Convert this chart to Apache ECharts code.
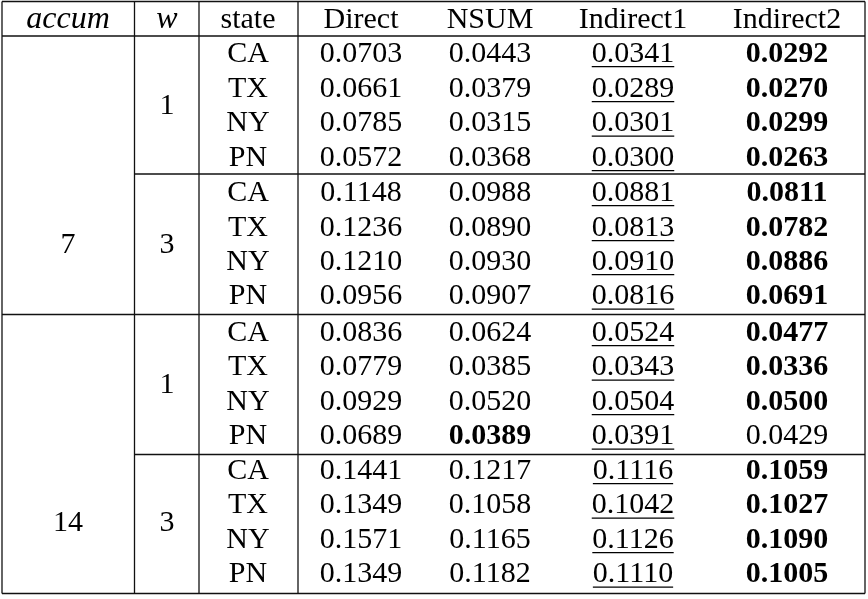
<!DOCTYPE html>
<html><head><meta charset="utf-8">
<script src="https://cdn.jsdelivr.net/npm/echarts@6/dist/echarts.min.js"></script>
<style>html,body{margin:0;padding:0;background:#fff}#c{width:868px;height:599px}</style>
</head><body><div id="c"></div>
<script>
// ---- data ----
const headers = ['accum', 'w', 'state', 'Direct', 'NSUM', 'Indirect1', 'Indirect2'];
const accumLevels = ['7', '14'];
const wLevels = ['1', '3'];
const states = ['CA', 'TX', 'NY', 'PN'];
const direct    = [0.0703, 0.0661, 0.0785, 0.0572, 0.1148, 0.1236, 0.1210, 0.0956, 0.0836, 0.0779, 0.0929, 0.0689, 0.1441, 0.1349, 0.1571, 0.1349];
const nsum      = [0.0443, 0.0379, 0.0315, 0.0368, 0.0988, 0.0890, 0.0930, 0.0907, 0.0624, 0.0385, 0.0520, 0.0389, 0.1217, 0.1058, 0.1165, 0.1182];
const indirect1 = [0.0341, 0.0289, 0.0301, 0.0300, 0.0881, 0.0813, 0.0910, 0.0816, 0.0524, 0.0343, 0.0504, 0.0391, 0.1116, 0.1042, 0.1126, 0.1110];
const indirect2 = [0.0292, 0.0270, 0.0299, 0.0263, 0.0811, 0.0782, 0.0886, 0.0691, 0.0477, 0.0336, 0.0500, 0.0429, 0.1059, 0.1027, 0.1090, 0.1005];

// ---- layout (table geometry in axis units) ----
const colX = [68, 167, 248, 361, 490, 633, 787];
const headerY = 18;
const rowY = [52, 87, 121.5, 156, 191, 226, 260, 294.5, 331, 365.5, 400, 434.5, 469, 503.5, 538, 572.5];
const xL = 2, xA = 134.5, xW = 199, xS = 298, xR = 865;
const yTop = 1.5, yHead = 36, yG1 = 174, yMid = 314.5, yG2 = 454.5, yBot = 593.5;
const TEXT_DY = 2, UL_DY = 14.7;

const FONT = 'Liberation Serif';
const valueCols = [direct, nsum, indirect1, indirect2];

// build cells
const cells = [];
headers.forEach((h, i) => {
  const italic = i < 2;
  cells.push({ x: colX[i], y: headerY, text: h, italic, size: italic ? 32 : 30 });
});
accumLevels.forEach((a, ai) => {
  const y = (rowY[ai * 8 + 4] + rowY[ai * 8 + 7]) / 2;
  cells.push({ x: colX[0], y, text: a });
});
for (let g = 0; g < 4; g++) {
  const y = (rowY[g * 4] + rowY[g * 4 + 3]) / 2;
  cells.push({ x: colX[1], y, text: wLevels[g % 2] });
}
for (let r = 0; r < 16; r++) {
  cells.push({ x: colX[2], y: rowY[r], text: states[r % 4] });
  const vals = valueCols.map(c => c[r]);
  const sorted = vals.slice().sort((a, b) => a - b);
  vals.forEach((v, k) => {
    cells.push({ x: colX[3 + k], y: rowY[r], text: v.toFixed(4), bold: v === sorted[0], underline: v === sorted[1] });
  });
}

const rules = [
  [xL, yTop, xR, yTop], [xL, yHead, xR, yHead], [xA, yG1, xR, yG1],
  [xL, yMid, xR, yMid], [xA, yG2, xR, yG2], [xL, yBot, xR, yBot],
  [xL, yTop, xL, yBot], [xA, yTop, xA, yBot], [xW, yTop, xW, yBot],
  [xS, yTop, xS, yBot], [xR, yTop, xR, yBot]
];

const mctx = document.createElement('canvas').getContext('2d');

const chart = echarts.init(document.getElementById('c'), null, { renderer: 'canvas' });
chart.setOption({
  backgroundColor: '#fff',
  animation: false,
  grid: { left: 0, right: 0, top: 0, bottom: 0 },
  xAxis: { type: 'value', min: 0, max: 868, show: false },
  yAxis: { type: 'value', min: 0, max: 599, inverse: true, show: false },
  series: [
    {
      type: 'custom',
      data: rules,
      renderItem: function (params, api) {
        const p1 = api.coord([api.value(0), api.value(1)]);
        const p2 = api.coord([api.value(2), api.value(3)]);
        return { type: 'line', shape: { x1: p1[0], y1: p1[1], x2: p2[0], y2: p2[1] }, style: { stroke: '#111', lineWidth: 1.3 } };
      }
    },
    {
      type: 'custom',
      data: cells.map(c => [c.x, c.y]),
      renderItem: function (params, api) {
        const c = cells[params.dataIndex];
        const p = api.coord([api.value(0), api.value(1)]);
        const size = c.size || 30;
        const children = [{
          type: 'text',
          style: {
            x: p[0], y: p[1] + TEXT_DY, text: c.text,
            fontFamily: FONT, fontSize: size,
            fontStyle: c.italic ? 'italic' : 'normal',
            fontWeight: c.bold ? 'bold' : 'normal',
            fill: '#000', align: 'center', verticalAlign: 'middle'
          }
        }];
        if (c.underline) {
          mctx.font = (c.bold ? 'bold ' : '') + size + 'px "' + FONT + '"';
          const w = mctx.measureText(c.text).width;
          children.push({ type: 'line', shape: { x1: p[0] - w / 2, y1: p[1] + UL_DY, x2: p[0] + w / 2, y2: p[1] + UL_DY }, style: { stroke: '#000', lineWidth: 1.2 } });
        }
        return { type: 'group', children };
      }
    }
  ]
});
</script>
</body></html>
